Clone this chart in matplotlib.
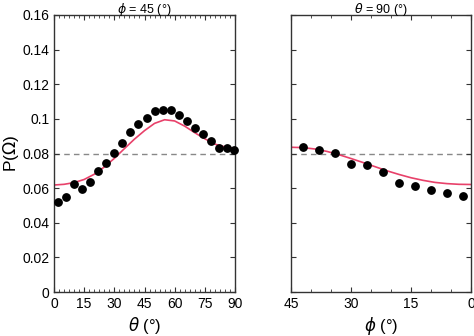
import matplotlib
matplotlib.use("Agg")
import matplotlib.pyplot as plt
from matplotlib.ticker import MultipleLocator
import numpy as np

plt.rcParams['font.family'] = ['Liberation Sans', 'DejaVu Sans']
plt.rcParams['mathtext.fontset'] = 'dejavusans'

# Left panel: phi = 45, P vs theta
theta_pts = [2, 6, 10, 14, 18, 22, 26, 30, 34, 38, 42, 46, 50, 54, 58, 62, 66, 70, 74, 78, 82, 86, 89.6]
p_theta_pts = [0.0520, 0.0551, 0.0622, 0.0595, 0.0637, 0.0699, 0.0743, 0.0805, 0.0859, 0.0924,
               0.0972, 0.1003, 0.1044, 0.1053, 0.1049, 0.1020, 0.0986, 0.0949, 0.0915, 0.0870,
               0.0834, 0.0834, 0.0818]
theta_curve = [0, 5, 10, 15, 20, 25, 30, 35, 40, 45, 50, 55, 60, 65, 70, 75, 80, 85, 90]
p_theta_curve = [0.0618, 0.0622, 0.0632, 0.0650, 0.0680, 0.0722, 0.0772, 0.0828, 0.0883, 0.0932,
                 0.0974, 0.0995, 0.0988, 0.0958, 0.0920, 0.0885, 0.0854, 0.0838, 0.0830]

# Right panel: theta = 90, P vs phi
phi_pts = [42, 38, 34, 30, 26, 22, 18, 14, 10, 6, 2]
p_phi_pts = [0.0837, 0.0818, 0.0801, 0.0739, 0.0732, 0.0693, 0.0630, 0.0610, 0.0587, 0.0574, 0.0553]
phi_curve = [45, 42, 39, 36, 33, 30, 27, 24, 21, 18, 15, 12, 9, 6, 3, 0]
p_phi_curve = [0.0836, 0.0834, 0.0826, 0.0812, 0.0793, 0.0771, 0.0748, 0.0724, 0.0700, 0.0679,
               0.0660, 0.0645, 0.0633, 0.0626, 0.0622, 0.0621]

uniform_level = 0.08

red = '#e8416a'
spine_col = '#333333'

fig = plt.figure(figsize=(4.74, 3.36), dpi=100)
ax1 = fig.add_axes([54/474, 44/336, 181/474, 277/336])
ax2 = fig.add_axes([291/474, 44/336, 180/474, 277/336])

for ax in (ax1, ax2):
    ax.axhline(uniform_level, color='#888888', ls=(0, (4, 3)), lw=1.0, zorder=1)
    ax.set_ylim(0, 0.16)
    ax.yaxis.set_major_locator(MultipleLocator(0.02))
    ax.tick_params(direction='in', top=True, right=True, length=3.5, width=0.8,
                   colors=spine_col, labelcolor='black', labelsize=10)
    ax.tick_params(which='minor', direction='in', top=True, right=True, length=2, width=0.6,
                   colors=spine_col)
    for s in ax.spines.values():
        s.set_color(spine_col)
        s.set_linewidth(1.0)

ax1.plot(theta_curve, p_theta_curve, color=red, lw=1.2, zorder=2)
ax1.plot(theta_pts, p_theta_pts, 'o', color='black', ms=5.3, zorder=3, clip_on=False)
ax1.set_xlim(0, 90)
ax1.xaxis.set_major_locator(MultipleLocator(15))
ax1.xaxis.set_minor_locator(MultipleLocator(2.5))
ax1.set_yticks(np.arange(0, 0.161, 0.02))
ax1.set_yticklabels(['0', '0.02', '0.04', '0.06', '0.08', '0.1', '0.12', '0.14', '0.16'])
ax1.set_xlabel(r'$\theta$ (°)', fontsize=12, labelpad=3)
ax1.set_ylabel(r'P($\Omega$)', fontsize=12.5, labelpad=1)

ax2.plot(phi_curve, p_phi_curve, color=red, lw=1.2, zorder=2)
ax2.plot(phi_pts, p_phi_pts, 'o', color='black', ms=5.3, zorder=3)
ax2.set_xlim(45, 0)
ax2.xaxis.set_major_locator(MultipleLocator(15))
ax2.xaxis.set_minor_locator(MultipleLocator(5))
ax2.set_yticklabels([])
ax2.set_xlabel(r'$\phi$ (°)', fontsize=12, labelpad=3)

# panel titles, kept inside the figure
for ax, title in ((ax1, r'$\phi$ = 45 (°)'), (ax2, r'$\theta$ = 90 (°)')):
    ax.text(0.5, 1 - 1.5/336, title, transform=ax.transAxes if False else fig.transFigure,
            ha='center', va='top', fontsize=9)
    ax.texts[-1].set_x((ax.get_position().x0 + ax.get_position().x1) / 2)

fig.savefig('out.png', dpi=100)
